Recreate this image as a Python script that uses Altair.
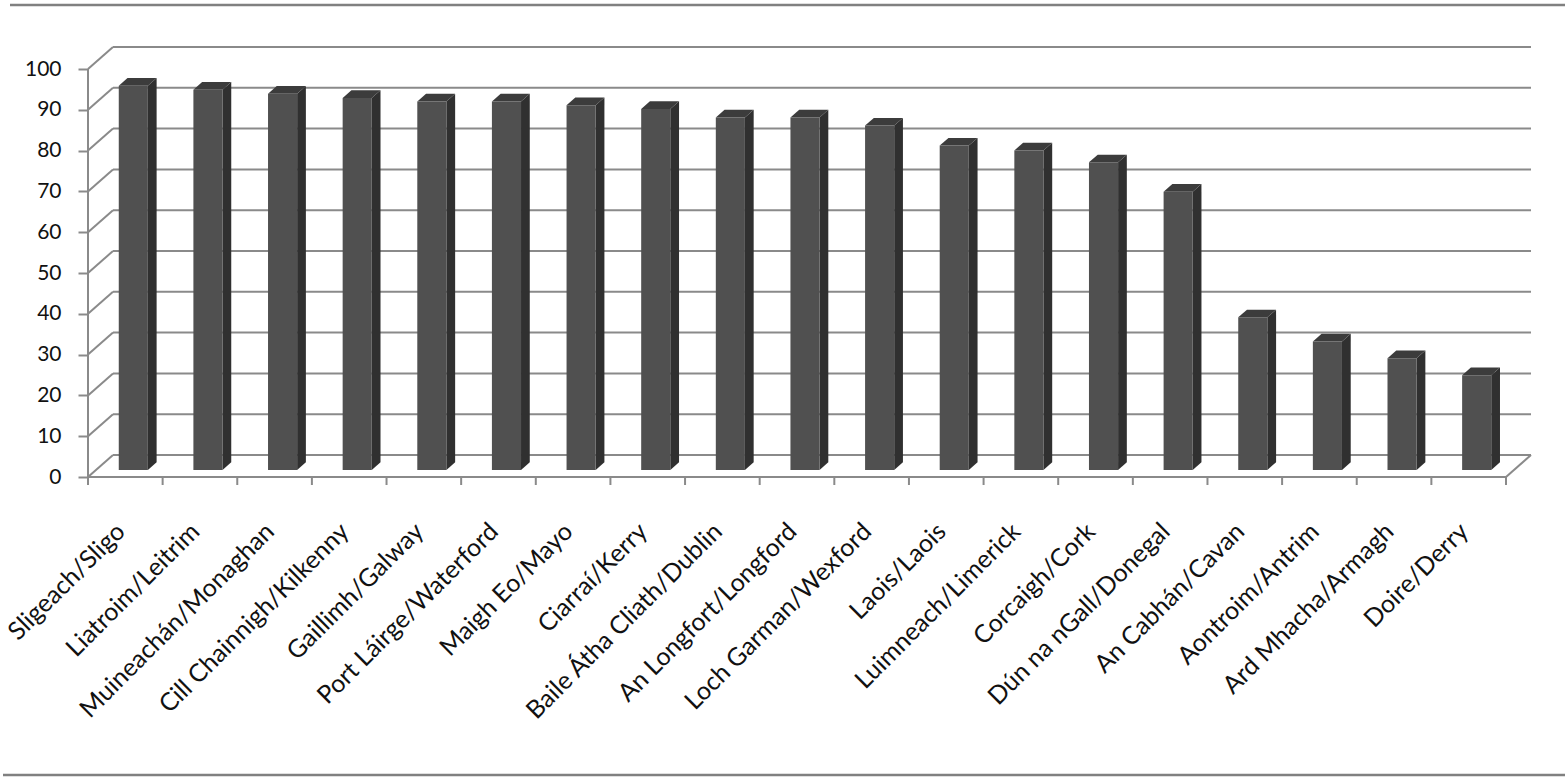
import altair as alt
import pandas as pd

# ---- data ----
categories = [
    "Sligeach/Sligo", "Liatroim/Leitrim", "Muineachán/Monaghan",
    "Cill Chainnigh/Kilkenny", "Gaillimh/Galway", "Port Láirge/Waterford",
    "Maigh Eo/Mayo", "Ciarraí/Kerry", "Baile Átha Cliath/Dublin",
    "An Longfort/Longford", "Loch Garman/Wexford", "Laois/Laois",
    "Luimneach/Limerick", "Corcaigh/Cork", "Dún na nGall/Donegal",
    "An Cabhán/Cavan", "Aontroim/Antrim", "Ard Mhacha/Armagh", "Doire/Derry",
]
values = [94.2, 93.2, 92.2, 91.2, 90.3, 90.3, 89.4, 88.5, 86.4, 86.4,
          84.4, 79.5, 78.3, 75.4, 68.2, 37.4, 31.5, 27.4, 23.2]
y_ticks = [0, 10, 20, 30, 40, 50, 60, 70, 80, 90, 100]

# ---- 3-D look (geometry in data units) ----
N = len(categories)
W, H = 1443, 430
XMAX, YMAX = N + 0.335, 105.4
DX, DY = 0.335, 5.4          # back-wall offset
F0, FD = 0.32, 0.35          # bar front depth fraction, bar depth fraction
HALF = 0.195                 # half width of a bar front face
SX, SY = F0 * DX, F0 * DY
BX, BY = FD * DX, FD * DY

GRID = "#8a8a8a"
FRONT, SIDE, TOP = "#505050", "#303030", "#3c3c3c"
FONT = "Lato"

xs = alt.Scale(domain=[0, XMAX], nice=False, zero=False)
ys = alt.Scale(domain=[0, YMAX], nice=False, zero=False)

label_expr = "[" + ",".join("'" + c + "'" for c in categories) + "][floor(datum.value)]"
X_AXIS = alt.Axis(
    values=[i + 0.5 for i in range(N)], labelExpr=label_expr,
    ticks=False, tickSize=0, domain=False, grid=False, title=None,
    labelAngle=-45, labelAlign="right", labelBaseline="middle",
    labelPadding=50, labelOffset=-5, labelOverlap=False, labelFlush=False,
    labelBound=False, labelLimit=0, labelFont=FONT, labelFontSize=25,
    labelColor="#111111")
Y_AXIS = alt.Axis(
    values=y_ticks, domain=False, grid=False, title=None,
    tickColor=GRID, tickWidth=2, tickSize=10, labelPadding=17,
    labelFont=FONT, labelFontSize=21, labelColor="#111111")

# walls
wall_rows = []
for v in y_ticks:
    wall_rows.append(dict(x=0, x2=DX, y=v, y2=v + DY))            # side wall
    wall_rows.append(dict(x=DX, x2=N + DX, y=v + DY, y2=v + DY))  # back wall
wall_rows.append(dict(x=N, x2=N + DX, y=0, y2=DY))                # floor edge
wall_rows.append(dict(x=0, x2=N, y=0, y2=0))                      # front x axis line
wall_rows.append(dict(x=0, x2=0, y=0, y2=y_ticks[-1]))            # front y axis line
walls = alt.Chart(pd.DataFrame(wall_rows)).mark_rule(color=GRID, strokeWidth=2).encode(
    x=alt.X("x:Q", scale=xs, axis=X_AXIS),
    x2="x2:Q",
    y=alt.Y("y:Q", scale=ys, axis=Y_AXIS),
    y2="y2:Q",
)

# bars
front_df = pd.DataFrame({
    "cat": categories,
    "xl": [i + 0.5 + SX - HALF for i in range(N)],
    "xr": [i + 0.5 + SX + HALF for i in range(N)],
    "yb": [SY] * N,
    "yt": [v + SY for v in values],
})
front = alt.Chart(front_df).mark_rect(color=FRONT).encode(
    x=alt.X("xl:Q", scale=xs, axis=X_AXIS),
    x2="xr:Q",
    y=alt.Y("yb:Q", scale=ys, axis=Y_AXIS),
    y2="yt:Q",
)

side_rows, top_rows = [], []
for i, (c, v) in enumerate(zip(categories, values)):
    xl = i + 0.5 + SX - HALF
    xr = i + 0.5 + SX + HALF
    side_rows.append(dict(cat=c, x=xr, y=SY, y2=v + SY))
    side_rows.append(dict(cat=c, x=xr + BX, y=SY + BY, y2=v + SY + BY))
    top_rows.append(dict(cat=c, y=v + SY, x=xl, x2=xr))
    top_rows.append(dict(cat=c, y=v + SY + BY, x=xl + BX, x2=xr + BX))

side = alt.Chart(pd.DataFrame(side_rows)).mark_area(color=SIDE, interpolate="linear").encode(
    x=alt.X("x:Q", scale=xs, axis=X_AXIS),
    y=alt.Y("y:Q", scale=ys, axis=Y_AXIS),
    y2="y2:Q",
    detail="cat:N",
)
top = alt.Chart(pd.DataFrame(top_rows)).mark_area(color=TOP, orient="horizontal").encode(
    y=alt.Y("y:Q", scale=ys, axis=Y_AXIS),
    x=alt.X("x:Q", scale=xs, axis=X_AXIS),
    x2="x2:Q",
    detail="cat:N",
)

# category tick marks on the front axis
ticks = alt.Chart(pd.DataFrame({"t": list(range(N + 1))})).mark_rule(
    color=GRID, strokeWidth=2).encode(
    x=alt.X("t:Q", scale=xs, axis=X_AXIS),
    y=alt.value(H),
    y2=alt.value(H + 8),
)

# frame lines at top and bottom of the picture
one = pd.DataFrame({"k": [0]})
frame_top = alt.Chart(one).mark_rule(color="#808080", strokeWidth=2.5).encode(
    x=alt.value(-78), x2=alt.value(1565 - 88), y=alt.value(-42))
frame_bottom = alt.Chart(one).mark_rule(color="#808080", strokeWidth=2.5).encode(
    x=alt.value(-85), x2=alt.value(1565 - 88), y=alt.value(728))

chart = alt.layer(walls, side, top, front, ticks, frame_top, frame_bottom).properties(
    width=W, height=H,
    autosize=alt.AutoSizeParams(type="none"),
    padding={"left": 88, "top": 47, "right": 34, "bottom": 303},
    background="white",
).configure_view(stroke=None)

chart.save("out.html", embed_options={"renderer": "svg", "actions": False})
